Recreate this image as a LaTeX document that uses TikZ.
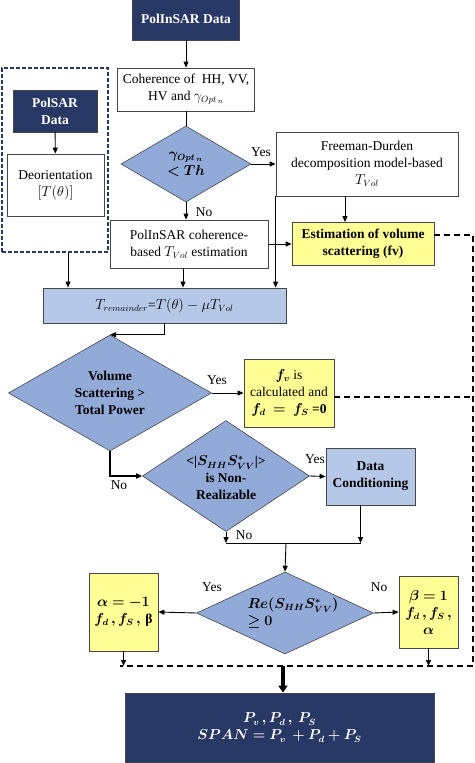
\documentclass[tikz,border=0pt]{standalone}
\usepackage{amsmath,bm}
\usepackage{fontspec}
\setmainfont{Liberation Serif}
\usetikzlibrary{shapes.geometric,arrows.meta}
\definecolor{navy}{RGB}{40,56,100}
\definecolor{dfill}{RGB}{146,170,216}
\definecolor{lfill}{RGB}{182,200,232}
\definecolor{yfill}{RGB}{255,255,150}
\definecolor{edge}{RGB}{70,70,70}
\begin{document}
\begin{tikzpicture}[x=1pt,y=-1pt,
    every node/.style={font=\fontsize{13.5}{17}\selectfont},
    box/.style={draw=edge,line width=0.8pt,inner sep=0pt,align=center,fill=white},
    darkbox/.style={box,fill=navy,text=white,font=\fontsize{13.5}{17}\selectfont\bfseries},
    lbox/.style={box,fill=lfill},
    ybox/.style={box,fill=yfill},
    dia/.style={diamond,draw=edge,line width=0.6pt,fill=dfill,inner sep=0pt},
    arr/.style={-{Triangle[length=6pt,width=5pt]},line width=0.9pt},
    dsh/.style={line width=1.4pt,dash pattern=on 6pt off 4pt}]
  \useasboundingbox (0,0) rectangle (474,763);
  % left branch
  \node[draw=navy,line width=1.2pt,dash pattern=on 4pt off 2pt,minimum width=106pt,minimum height=184pt] (frame) at (55,160) {};
  \node[darkbox,minimum width=84pt,minimum height=42pt] (polsar) at (55,111) {PolSAR\\Data};
  \node[box,minimum width=97pt,minimum height=62pt] (deor) at (55.5,185) {Deorientation\\$[T(\theta)]$};
  \draw[arr] (polsar) -- (deor);
  % top
  \node[darkbox,minimum width=107pt,minimum height=42pt] (insar) at (186,19) {PolInSAR Data};
  \node[box,minimum width=137pt,minimum height=43pt] (coh) at (186,89.5) {Coherence of~ HH, VV,\\HV and $\gamma_{Opt_{\,n}}$};
  \node[dia,minimum width=130pt,minimum height=76pt] (d1) at (186,164) {};
  \node[align=center] (d1t) at (d1) {$\boldsymbol{\gamma_{Opt_{\,n}}}$\\$\boldsymbol{<Th}$};
  \node[box,minimum width=182pt,minimum height=64pt] (fd) at (367,164) {Freeman-Durden\\decomposition model-based\\$T_{Vol}$};
  \node[box,minimum width=158pt,minimum height=48pt] (pic) at (189,244) {PolInSAR coherence-\\based $T_{Vol}$ estimation};
  \node[ybox,minimum width=142pt,minimum height=43pt,font=\fontsize{13.5}{17}\selectfont\bfseries] (est) at (363,244) {Estimation of volume\\scattering (fv)};
  \node[lbox,minimum width=243pt,minimum height=35pt] (trem) at (164.5,305.5) {$T_{remainder}$=$T(\theta)-\mu T_{Vol}$};
  \draw[arr] (insar) -- (coh);
  \draw[line width=0.9pt] (coh) -- (d1);
  \draw[arr] (d1.east) -- (fd.west);
  \node (y1) at (261,152) {Yes};
  \draw[arr] (d1.south) -- (d1.south |- pic.north);
  \node (n1) at (204,212) {No};
  \draw[arr] (pic) -- (est);
  \draw[arr] ([xshift=-22pt]fd.south) -- ([xshift=-22pt]fd.south |- est.north);
  \draw[arr] (fd.south west) -- (fd.south west |- trem.north);
  \draw[arr] ([xshift=-6pt]pic.south) -- ([xshift=-6pt]pic.south |- trem.north);
  \draw[arr] ([xshift=13pt]frame.south) -- ([xshift=13pt]frame.south |- trem.north);
  % volume test
  \node[dia,minimum width=203pt,minimum height=116pt] (d2) at (110,393) {};
  \node[align=center,font=\fontsize{13.5}{17}\selectfont\bfseries] (d2t) at (d2) {Volume\\Scattering >\\Total Power};
  \node[ybox,minimum width=90pt,minimum height=68pt] (fv) at (289,393) {$\boldsymbol{f_v}$ is\\calculated and\\$\boldsymbol{f_d\ =\ f_S}$ \textbf{=0}};
  \draw[arr] (trem.south) |- (d2.north);
  \draw[arr] (d2.east) -- (fv.west);
  \node (y2) at (217,380) {Yes};
  % realizability
  \node[dia,minimum width=167pt,minimum height=111pt] (d3) at (226,476) {};
  \node[align=center,font=\fontsize{13.5}{17}\selectfont\bfseries] (d3t) at (226,478) {<|$\boldsymbol{S_{HH}S^{*}_{VV}}$|>\\is Non-\\Realizable};
  \node[lbox,minimum width=89pt,minimum height=57pt,font=\fontsize{13.5}{17}\selectfont\bfseries] (dc) at (370.5,476.5) {Data\\Conditioning};
  \draw[arr,line width=2pt] (d2.south) |- (d3.west);
  \node (n2) at (119,485) {No};
  \draw[arr] (d3.east) -- (dc.west);
  \node (y3) at (315,459) {Yes};
  \coordinate (mj) at (286,543);
  \draw[arr] (d3.south) -- (d3.south |- mj);
  \node (n3) at (244,535) {No};
  \draw[arr] ([xshift=-10pt]dc.south) -- ([xshift=-10pt]dc.south |- mj);
  \draw[line width=0.9pt] (d3.south |- mj) -- ([xshift=-10pt]dc.south |- mj);
  % sign test
  \node[dia,minimum width=177pt,minimum height=82pt] (d4) at (285,613) {};
  \node[align=left] (d4t) at (293,613) {$\boldsymbol{Re(S_{HH}S^{*}_{VV})}$\\$\boldsymbol{\geq 0}$};
  \node[ybox,minimum width=69pt,minimum height=78pt] (lbx) at (123.5,612) {$\boldsymbol{\alpha=-1}$\\$\boldsymbol{f_d\,,f_S\,,}\,\textbf{β}$};
  \node[ybox,minimum width=59pt,minimum height=72pt] (rbx) at (428.5,612) {$\boldsymbol{\beta=1}$\\$\boldsymbol{f_d\,,f_S\,,}$\\$\boldsymbol{\alpha}$};
  \draw[arr] (mj) -- (d4.north);
  \draw[arr] (d4.west) -- (lbx.east);
  \node (y4) at (212,587) {Yes};
  \draw[arr] (d4.east) -- (rbx.west);
  \node (n4) at (379,587) {No};
  % dashed collector
  \coordinate (rtop) at (473,235);
  \coordinate (rbot) at (473,666);
  \coordinate (lbot) at (120,666);
  \draw[dsh] ([yshift=9pt]est.east) -- (rtop) -- (rbot) -- (lbot);
  \draw[dsh] ([yshift=-4pt]fv.east) -- ([yshift=-4pt]fv.east -| rtop);
  \draw[arr,line width=1.8pt] (lbx.south) -- (lbx.south |- lbot);
  \draw[arr,line width=1.8pt] (rbx.south) -- (rbx.south |- lbot);
  % result
  \node[darkbox,minimum width=309pt,minimum height=69pt] (fin) at (279.5,727.5) {$\boldsymbol{P_v\,,P_d\,,\ P_S}$\\$\boldsymbol{SPAN=P_v\ +P_d+P_S}$};
  \draw[-{Triangle[length=7pt,width=9pt]},line width=3.5pt] ([xshift=3.5pt]fin.north |- lbot) -- ([xshift=3.5pt]fin.north);
\end{tikzpicture}
\end{document}
